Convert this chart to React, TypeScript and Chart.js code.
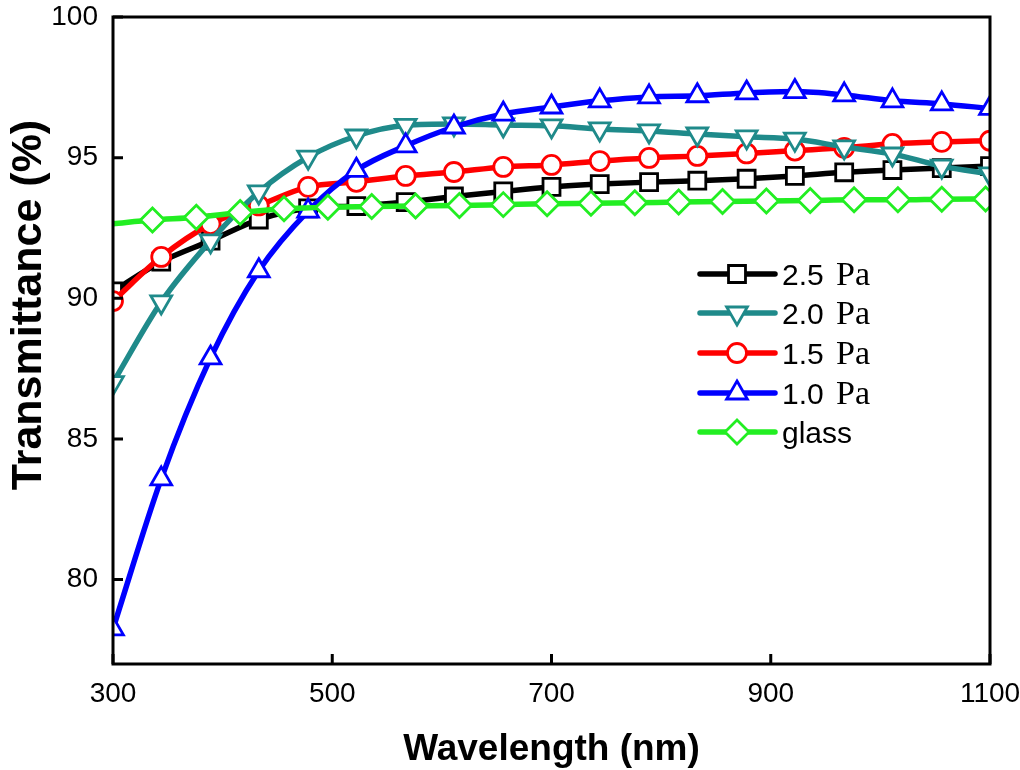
import React, { useEffect, useRef } from 'react';
import { Chart, registerables } from 'chart.js';

Chart.register(...registerables);

// Sampled wavelengths (nm) for the sputtered films
const wavelengths = [300, 344, 389, 433, 478, 522, 567, 611, 656, 700, 744, 789, 833, 878, 922, 967, 1011, 1056, 1100];

// Transmittance (%) at each working pressure
const pa25 = [90.25, 91.3, 92.05, 92.8, 93.2, 93.28, 93.42, 93.62, 93.8, 93.96, 94.06, 94.13, 94.18, 94.25, 94.35, 94.48, 94.56, 94.63, 94.7];
const pa20 = [87.0, 89.87, 92.04, 93.78, 95.02, 95.77, 96.15, 96.2, 96.16, 96.13, 96.02, 95.95, 95.84, 95.74, 95.66, 95.38, 95.13, 94.7, 94.42];
const pa15 = [89.9, 91.47, 92.64, 93.3, 93.96, 94.14, 94.35, 94.49, 94.67, 94.74, 94.88, 94.99, 95.06, 95.15, 95.25, 95.35, 95.49, 95.56, 95.6];
const pa10 = [78.25, 83.58, 87.88, 90.98, 93.1, 94.55, 95.42, 96.09, 96.55, 96.8, 97.02, 97.16, 97.2, 97.3, 97.35, 97.23, 97.02, 96.91, 96.75];

// Bare glass substrate
const glassWavelengths = [300, 336, 376, 416, 456, 496, 536, 576, 616, 656, 696, 736, 776, 816, 856, 896, 936, 976, 1016, 1056, 1096];
const glass = [92.65, 92.78, 92.88, 93.05, 93.18, 93.24, 93.26, 93.28, 93.3, 93.33, 93.36, 93.38, 93.4, 93.42, 93.44, 93.46, 93.48, 93.5, 93.5, 93.52, 93.53];

const xTicks = [300, 500, 700, 900, 1100];
const yTicks = [80, 85, 90, 95, 100];

const legendNumbers = ['2.5', '2.0', '1.5', '1.0', 'glass'];
const legendUnit = 'Pa';

const SANS = "'Liberation Sans', Arial, sans-serif";
const SERIF = "'Liberation Serif', 'Times New Roman', serif";

type MarkerStyle = 'rect' | 'circle' | 'triangle' | 'triangleDown' | 'rectRot';

interface SeriesStyle {
  color: string;
  marker: MarkerStyle;
  radius: number;
}

const styles: SeriesStyle[] = [
  { color: '#000000', marker: 'rect', radius: 12 },
  { color: '#1f8a8a', marker: 'triangleDown', radius: 12 },
  { color: '#ff0000', marker: 'circle', radius: 9.5 },
  { color: '#0000ff', marker: 'triangle', radius: 12 },
  { color: '#22ee22', marker: 'rectRot', radius: 12 },
];

const LINE_WIDTH = 5.5;
const MARKER_STROKE = 2.8;

function drawMarker(ctx: CanvasRenderingContext2D, s: SeriesStyle, x: number, y: number) {
  const r = s.radius;
  ctx.beginPath();
  if (s.marker === 'rect') {
    const h = r * Math.SQRT1_2;
    ctx.rect(x - h, y - h, 2 * h, 2 * h);
  } else if (s.marker === 'circle') {
    ctx.arc(x, y, r, 0, Math.PI * 2);
  } else if (s.marker === 'triangle') {
    ctx.moveTo(x, y - r);
    ctx.lineTo(x + r * 0.866, y + r * 0.5);
    ctx.lineTo(x - r * 0.866, y + r * 0.5);
    ctx.closePath();
  } else if (s.marker === 'triangleDown') {
    ctx.moveTo(x, y + r);
    ctx.lineTo(x + r * 0.866, y - r * 0.5);
    ctx.lineTo(x - r * 0.866, y - r * 0.5);
    ctx.closePath();
  } else {
    ctx.moveTo(x - r, y);
    ctx.lineTo(x, y - r);
    ctx.lineTo(x + r, y);
    ctx.lineTo(x, y + r);
    ctx.closePath();
  }
  ctx.fillStyle = '#ffffff';
  ctx.fill();
  ctx.lineWidth = MARKER_STROKE;
  ctx.strokeStyle = s.color;
  ctx.stroke();
}

function toPoints(xs: number[], ys: number[]) {
  return xs.map((x, i) => ({ x, y: ys[i] }));
}

function makeDataset(label: string, xs: number[], ys: number[], s: SeriesStyle, order: number, hideFirst = false) {
  const pointStyle = s.marker === 'triangleDown' ? 'triangle' : s.marker;
  return {
    label,
    data: toPoints(xs, ys),
    borderColor: s.color,
    borderWidth: LINE_WIDTH,
    backgroundColor: s.color,
    pointStyle,
    pointRotation: s.marker === 'triangleDown' ? 180 : 0,
    pointRadius: xs.map((_, i) => (hideFirst && i === 0 ? 0 : s.radius)),
    pointBorderWidth: MARKER_STROKE,
    pointBorderColor: s.color,
    pointBackgroundColor: '#ffffff',
    cubicInterpolationMode: 'monotone' as const,
    order,
  };
}

const decorPlugin = {
  id: 'decor',
  afterDatasetsDraw(chart: any) {
    const { ctx, chartArea: a, scales } = chart;
    ctx.save();

    // frame and inward ticks
    ctx.strokeStyle = '#000';
    ctx.lineWidth = 3;
    ctx.strokeRect(a.left, a.top, a.right - a.left, a.bottom - a.top);
    ctx.beginPath();
    for (const v of yTicks) {
      const y = scales.y.getPixelForValue(v);
      ctx.moveTo(a.left, y);
      ctx.lineTo(a.left + 10, y);
    }
    for (const v of xTicks) {
      const x = scales.x.getPixelForValue(v);
      ctx.moveTo(x, a.bottom);
      ctx.lineTo(x, a.bottom - 10);
    }
    ctx.stroke();

    // legend
    const lx0 = 700;
    const lx1 = 775;
    const mx = 737;
    const textX = 782;
    const rows = [274, 313, 353, 393, 432];
    rows.forEach((ry, i) => {
      const s = styles[i];
      ctx.beginPath();
      ctx.moveTo(lx0, ry);
      ctx.lineTo(lx1, ry);
      ctx.lineWidth = LINE_WIDTH;
      ctx.strokeStyle = s.color;
      ctx.lineCap = 'round';
      ctx.stroke();
      ctx.lineCap = 'butt';
      drawMarker(ctx, s, mx, ry);
      ctx.fillStyle = '#000';
      ctx.textBaseline = 'alphabetic';
      ctx.textAlign = 'left';
      ctx.font = `30px ${SANS}`;
      ctx.fillText(legendNumbers[i], textX, ry + 11);
      if (i < 4) {
        ctx.font = `34px ${SERIF}`;
        ctx.fillText(legendUnit, 836, ry + 11);
      }
    });

    // axis titles
    ctx.fillStyle = '#000';
    ctx.font = `bold 37px ${SANS}`;
    ctx.textAlign = 'center';
    ctx.textBaseline = 'alphabetic';
    ctx.fillText('Wavelength (nm)', (a.left + a.right) / 2, 760);

    ctx.save();
    ctx.translate(41, 305);
    ctx.rotate(-Math.PI / 2);
    ctx.font = `bold 43px ${SANS}`;
    ctx.fillText('Transmittance (%)', 0, 0);
    ctx.restore();

    ctx.restore();
  },
};

export default function App() {
  const canvasRef = useRef<HTMLCanvasElement | null>(null);

  useEffect(() => {
    const canvas = canvasRef.current;
    if (!canvas) return;
    const chart = new Chart(canvas, {
      type: 'line',
      data: {
        datasets: [
          makeDataset('glass', glassWavelengths, glass, styles[4], 0, true),
          makeDataset('1.0 Pa', wavelengths, pa10, styles[3], 1),
          makeDataset('2.0 Pa', wavelengths, pa20, styles[1], 2),
          makeDataset('1.5 Pa', wavelengths, pa15, styles[2], 3),
          makeDataset('2.5 Pa', wavelengths, pa25, styles[0], 4),
        ] as any,
      },
      options: {
        animation: false,
        responsive: false,
        events: [],
        layout: { padding: { top: 17, right: 30, left: 0, bottom: 0 } },
        plugins: {
          legend: { display: false },
          tooltip: { enabled: false },
        },
        scales: {
          x: {
            type: 'linear',
            min: 300,
            max: 1100,
            grid: { display: false, drawTicks: false },
            border: { display: false },
            afterBuildTicks: (scale: any) => {
              scale.ticks = xTicks.map((value) => ({ value }));
            },
            afterFit: (scale: any) => {
              scale.height = 106;
              scale.paddingLeft = 0;
              scale.paddingRight = 0;
            },
            ticks: {
              padding: 13,
              maxRotation: 0,
              autoSkip: false,
              color: '#000',
              font: { family: SANS, size: 28 },
              callback: (value: any) => String(value),
            },
          },
          y: {
            type: 'linear',
            min: 77,
            max: 100,
            grid: { display: false, drawTicks: false },
            border: { display: false },
            afterBuildTicks: (scale: any) => {
              scale.ticks = yTicks.map((value) => ({ value }));
            },
            afterFit: (scale: any) => {
              scale.width = 113;
              scale.paddingTop = 0;
              scale.paddingBottom = 0;
            },
            ticks: {
              padding: 15,
              autoSkip: false,
              color: '#000',
              font: { family: SANS, size: 28 },
              callback: (value: any) => String(value),
            },
          },
        },
      },
      plugins: [decorPlugin],
    });
    return () => chart.destroy();
  }, []);

  return (
    <div style={{ position: 'absolute', left: 0, top: 0, width: 1020, height: 770, background: '#fff' }}>
      <canvas ref={canvasRef} width={1020} height={770} style={{ display: 'block' }} />
    </div>
  );
}
